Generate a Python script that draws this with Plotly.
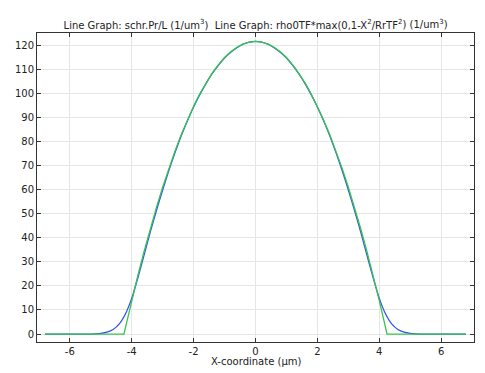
import plotly.graph_objects as go

# Blue curve: schr.Pr/L
x_blue = [-6.8, -6.6, -6.4, -6.2, -6.0, -5.8, -5.6, -5.4, -5.2, -5.0, -4.8, -4.6, -4.4, -4.2,
          -4.0, -3.8, -3.6, -3.4, -3.2, -3.0, -2.8, -2.6, -2.4, -2.2, -2.0, -1.8, -1.6, -1.4,
          -1.2, -1.0, -0.8, -0.6, -0.4, -0.2, 0.0, 0.2, 0.4, 0.6, 0.8, 1.0, 1.2, 1.4, 1.6, 1.8,
          2.0, 2.2, 2.4, 2.6, 2.8, 3.0, 3.2, 3.4, 3.6, 3.8, 4.0, 4.2, 4.4, 4.6, 4.8, 5.0, 5.2,
          5.4, 5.6, 5.8, 6.0, 6.2, 6.4, 6.6, 6.8]
y_blue = [0, 0, 0, 0, 0, 0, 0, 0, 0.1, 0.3, 0.8, 1.9, 4.2, 8.4,
          14.8, 23.4, 32.8, 42.3, 51.3, 59.8, 67.9, 75.4, 82.3, 88.6, 94.3, 99.4, 104.0, 108.1,
          111.6, 114.6, 117.0, 118.9, 120.4, 121.2, 121.5, 121.2, 120.4, 118.9, 117.0, 114.6,
          111.6, 108.1, 104.0, 99.4, 94.3, 88.6, 82.3, 75.4, 67.9, 59.8, 51.3, 42.3, 32.8, 23.4,
          14.8, 8.4, 4.2, 1.9, 0.8, 0.3, 0.1, 0, 0, 0, 0, 0, 0, 0, 0]

# Green curve: rho0TF*max(0,1-X^2/RrTF^2)
x_green = [-6.8, -4.25, -4.2, -4.0, -3.8, -3.6, -3.4, -3.2, -3.0, -2.8, -2.6, -2.4, -2.2, -2.0,
           -1.8, -1.6, -1.4, -1.2, -1.0, -0.8, -0.6, -0.4, -0.2, 0.0, 0.2, 0.4, 0.6, 0.8, 1.0,
           1.2, 1.4, 1.6, 1.8, 2.0, 2.2, 2.4, 2.6, 2.8, 3.0, 3.2, 3.4, 3.6, 3.8, 4.0, 4.2, 4.25, 6.8]
y_green = [0, 0, 2.8, 13.9, 24.4, 34.3, 43.7, 52.6, 61.0, 68.8, 76.0, 82.8, 88.9, 94.6,
           99.7, 104.3, 108.3, 111.8, 114.8, 117.2, 119.1, 120.4, 121.2, 121.5, 121.2, 120.4, 119.1,
           117.2, 114.8, 111.8, 108.3, 104.3, 99.7, 94.6, 88.9, 82.8, 76.0, 68.8, 61.0, 52.6, 43.7,
           34.3, 24.4, 13.9, 2.8, 0, 0]

x_ticks = [-6, -4, -2, 0, 2, 4, 6]
y_ticks = [0, 10, 20, 30, 40, 50, 60, 70, 80, 90, 100, 110, 120]

fig = go.Figure()
fig.add_trace(go.Scatter(x=x_blue, y=y_blue, mode="lines", line=dict(color="rgb(50,85,240)", width=1.3, shape="spline", smoothing=0.6)))
fig.add_trace(go.Scatter(x=x_green, y=y_green, mode="lines", line=dict(color="rgb(55,195,75)", width=1.3)))

axis_common = dict(showline=True, linecolor="#333", linewidth=1, mirror="ticks", ticks="inside",
                   ticklen=4, tickcolor="#333", showgrid=True, gridcolor="#e6e6e6", gridwidth=1,
                   zeroline=False, automargin=False,
                   tickfont=dict(size=10, color="#222", family="DejaVu Sans"))

fig.update_layout(
    width=485, height=373,
    margin=dict(l=37, r=11, t=33, b=31),
    paper_bgcolor="white", plot_bgcolor="white",
    showlegend=False,
    title=dict(text="Line Graph: schr.Pr/L (1/um<sup>3</sup>)  Line Graph: rho0TF*max(0,1-X<sup>2</sup>/RrTF<sup>2</sup>) (1/um<sup>3</sup>)",
               x=0.527, xanchor="center", y=1 - 25 / 373, yanchor="middle",
               font=dict(size=10, color="#222", family="DejaVu Sans")),
    xaxis=dict(range=[-7.06, 7.06], tickvals=x_ticks, ticktext=[str(v) for v in x_ticks],
               **axis_common),
    yaxis=dict(range=[-3.3, 125], tickvals=y_ticks, **axis_common),
    annotations=[dict(text="X-coordinate (µm)", xref="paper", yref="paper", x=0.5, y=-(361 - 342) / 309,
                      xanchor="center", yanchor="middle", showarrow=False,
                      font=dict(size=10, color="#222", family="DejaVu Sans"))],
)

fig.write_html("out.html")
